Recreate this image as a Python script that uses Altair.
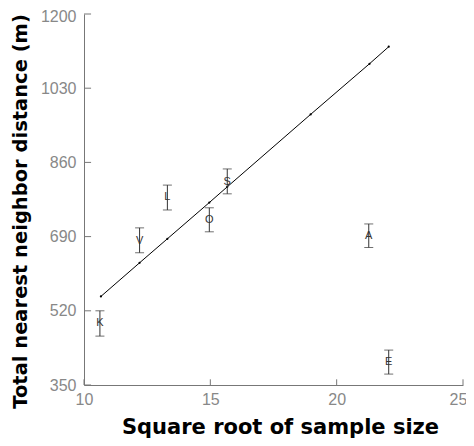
import altair as alt
import pandas as pd

# observed points
labels = ["K", "V", "L", "O", "S", "A", "E"]
sqrt_n = [10.63, 12.2, 13.3, 14.96, 15.67, 21.27, 22.06]
dist = [491, 680, 780, 728, 815, 692, 402]
err_lo = [462, 653, 751, 701, 788, 665, 375]
err_hi = [520, 710, 808, 756, 845, 719, 430]

# regression line
line_x = [10.67, 12.2, 13.3, 14.96, 15.67, 18.97, 21.3, 22.06]
line_y = [553, 630, 685, 768, 804, 970, 1086, 1125]

y_ticks = [350, 520, 690, 860, 1030, 1200]
x_ticks = [10, 15, 20, 25]

pts = pd.DataFrame({"lab": labels, "x": sqrt_n, "y": dist, "lo": err_lo, "hi": err_hi})
ln = pd.DataFrame({"x": line_x, "y": line_y})
yt = pd.DataFrame({"v": y_ticks, "x0": [10] * len(y_ticks), "x1": [10.28] * len(y_ticks)})
xt = pd.DataFrame({"v": x_ticks, "y0": [350] * len(x_ticks), "y1": [363] * len(x_ticks)})

xs = alt.Scale(domain=[10, 25], nice=False, zero=False)
ys = alt.Scale(domain=[350, 1200], nice=False, zero=False)

common = dict(grid=False, ticks=False, format="d", labelFlush=False, labelOverlap=False,
              domainColor="#777", labelColor="#888", labelFontSize=16, labelFont="Liberation Sans",
              titleColor="black", titleFont="DejaVu Sans", titleFontWeight="bold")
xax = alt.Axis(values=x_ticks, title="Square root of sample size", labelPadding=6, titlePadding=9,
               titleFontSize=21, titleX=196,
               labelOffset=alt.ExprRef(expr="datum.value == 25 ? -5 : 0"), **common)
yax = alt.Axis(values=y_ticks, title="Total nearest neighbor distance (m)", labelPadding=8, titlePadding=10,
               titleFontSize=19.5, titleY=197,
               labelOffset=alt.ExprRef(expr="datum.value == 1200 ? 2 : 0"), **common)

base = alt.Chart(pts)

line = alt.Chart(ln).mark_line(color="black", strokeWidth=1).encode(
    x=alt.X("x:Q", scale=xs, axis=xax),
    y=alt.Y("y:Q", scale=ys, axis=yax),
)
dots = alt.Chart(ln).mark_circle(color="black", size=5, opacity=1).encode(
    x=alt.X("x:Q", scale=xs), y=alt.Y("y:Q", scale=ys)
)

bars = base.mark_rule(color="#333", strokeWidth=1).encode(
    x=alt.X("x:Q", scale=xs), y=alt.Y("lo:Q", scale=ys), y2="hi:Q"
)
cap_lo = base.mark_tick(orient="horizontal", size=9, thickness=1, color="#333").encode(
    x=alt.X("x:Q", scale=xs), y=alt.Y("lo:Q", scale=ys)
)
cap_hi = base.mark_tick(orient="horizontal", size=9, thickness=1, color="#333").encode(
    x=alt.X("x:Q", scale=xs), y=alt.Y("hi:Q", scale=ys)
)
txt = base.mark_text(fontSize=11, font="Liberation Sans", color="#333").encode(
    x=alt.X("x:Q", scale=xs), y=alt.Y("y:Q", scale=ys), text="lab:N"
)

ytick = alt.Chart(yt).mark_rule(color="#777", strokeWidth=1).encode(
    x=alt.X("x0:Q", scale=xs), x2="x1:Q", y=alt.Y("v:Q", scale=ys)
)
xtick = alt.Chart(xt).mark_rule(color="#777", strokeWidth=1).encode(
    x=alt.X("v:Q", scale=xs), y=alt.Y("y0:Q", scale=ys), y2="y1:Q"
)

chart = alt.layer(line, dots, bars, cap_lo, cap_hi, txt, ytick, xtick).properties(
    width=379, height=371,
    background="white",
    autosize=alt.AutoSizeParams(type="none"),
    padding={"left": 76, "top": 6, "right": 3, "bottom": 53},
).configure_view(stroke=None)

chart.save("out.html", embed_options={"renderer": "svg", "actions": False})
